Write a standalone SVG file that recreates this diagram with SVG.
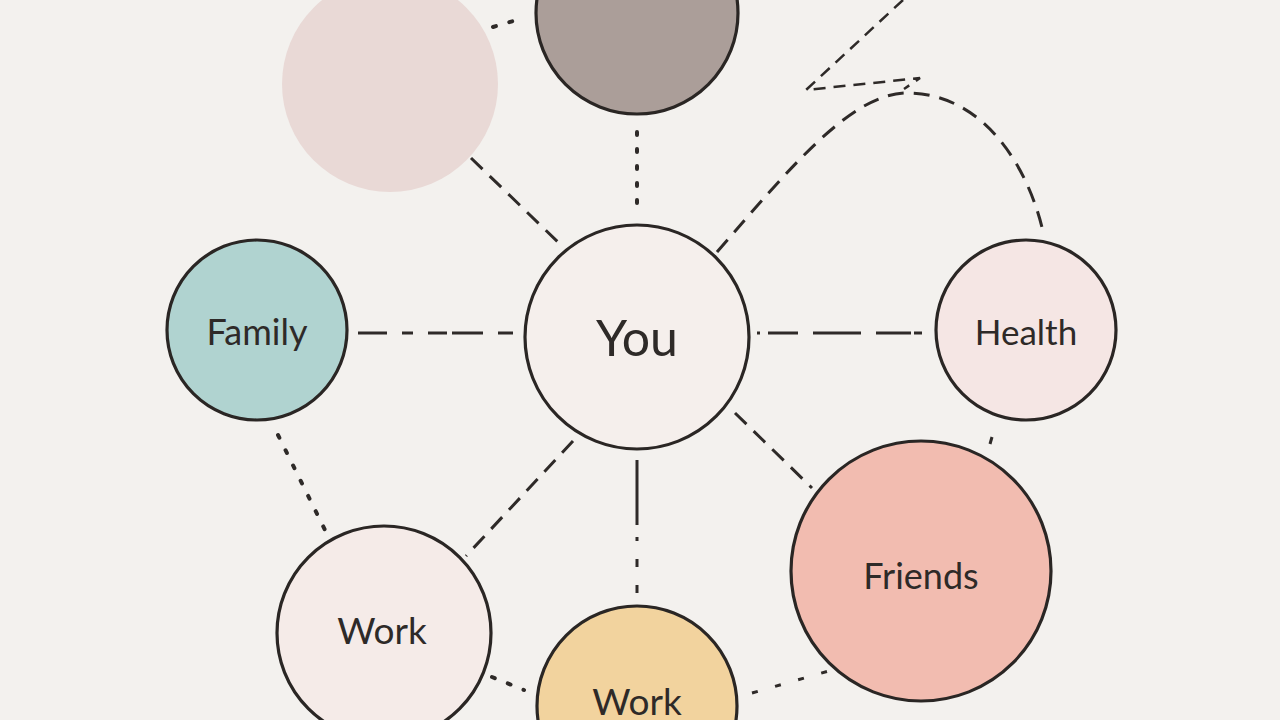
<svg xmlns="http://www.w3.org/2000/svg" width="1280" height="720" viewBox="0 0 1280 720">
<style>
.node{stroke:#2a2624;stroke-width:3.2}
.lbl{font-family:Lato,"Noto Sans",sans-serif;fill:#2e2a28;text-anchor:middle;dominant-baseline:central}
.c{fill:none;stroke:#2e2a28;stroke-width:3;stroke-linecap:butt}
.dot{stroke-dasharray:3 14;stroke-linecap:round;stroke-width:4}
.dash{stroke-dasharray:16 10}
.thin{stroke-width:2.5;stroke-dasharray:12 8}
</style>
<rect width="1280" height="720" fill="#f3f1ee"/>
<g id="connectors">
<path class="c dot" d="M493,27 L520,19"/>
<path class="c dash" d="M471,158 L562,246"/>
<path class="c dot" d="M637,132 L637,214"/>
<path class="c" stroke-dasharray="29 15 11 15 19 5 31 15 15" d="M358,333 L513,333"/>
<path class="c" stroke-dasharray="3 8 30 15 48 15 35" d="M757,333 L930,333"/>
<path class="c thin" d="M903,0 L806,90 L920,78 L904,89"/>
<path class="c dash" d="M717,252 C790,168 850,95 905,93 C985,92 1030,170 1044,236"/>
<path class="c dot" d="M278,435 L325,530"/>
<path class="c dash" d="M573,441 L466,556"/>
<path class="c" stroke-dasharray="65 12 4 18 8 18 8" d="M637,460 L637,595"/>
<path class="c dash" d="M735,413 L812,488"/>
<path class="c" d="M992,437 L990,444"/>
<path class="c dot" d="M492,677 L524,690"/>
<path class="c" stroke-dasharray="6 18" d="M752,693 L832,670"/>
</g>
<g id="n-pink"><circle cx="390" cy="84" r="108" fill="#e9d9d6"/></g>
<g id="n-gray"><circle class="node" cx="637" cy="13" r="101" fill="#ab9e99"/></g>
<g id="n-you"><circle class="node" cx="637" cy="337" r="112" fill="#f5efec"/><text class="lbl" x="637" y="337" font-size="50">You</text></g>
<g id="n-family"><circle class="node" cx="257" cy="330" r="90" fill="#b0d3d0"/><text class="lbl" x="257" y="331" font-size="36">Family</text></g>
<g id="n-health"><circle class="node" cx="1026" cy="330" r="90" fill="#f5e6e4"/><text class="lbl" x="1026" y="331" font-size="35">Health</text></g>
<g id="n-work1"><circle class="node" cx="384" cy="633" r="107" fill="#f5ebe8"/><text class="lbl" x="382" y="629" font-size="37">Work</text></g>
<g id="n-work2"><circle class="node" cx="637" cy="706" r="100" fill="#f2d39e"/><text class="lbl" x="637" y="700" font-size="37">Work</text></g>
<g id="n-friends"><circle class="node" cx="921" cy="571" r="130" fill="#f2bcb0"/><text class="lbl" x="921" y="575" font-size="36">Friends</text></g>
</svg>
